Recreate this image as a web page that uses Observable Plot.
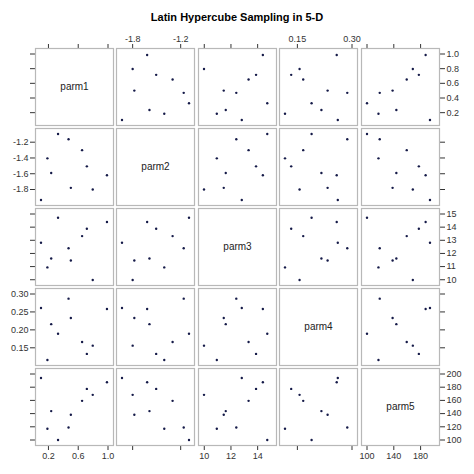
<!DOCTYPE html>
<html>
<head>
<meta charset="utf-8">
<script src="https://cdn.jsdelivr.net/npm/d3@7"></script>
<script src="https://cdn.jsdelivr.net/npm/@observablehq/plot@0.6"></script>
<style>
  html, body { margin: 0; padding: 0; background: #fff; }
  #wrap { position: relative; width: 474px; height: 474px; overflow: hidden; font-family: "Liberation Sans", Arial, sans-serif; }
  #title { position: absolute; left: 0; width: 474px; top: 11px; text-align: center; font-weight: bold; font-size: 11px; line-height: 13px; color: #000; }
  .cell { position: absolute; width: 158px; height: 157px; }
  .cell svg { background: transparent !important; max-width: none !important; display: block; }
</style>
</head>
<body>
<div id="wrap"><div id="title">Latin Hypercube Sampling in 5-D</div></div>
<script>
// Variable names
const names = ["parm1", "parm2", "parm3", "parm4", "parm5"];

// Sample values (10 samples)
const parm1 = [0.986, 0.795, 0.716, 0.652, 0.501, 0.470, 0.329, 0.237, 0.186, 0.100];
const parm2 = [-1.619, -1.800, -1.506, -1.301, -1.779, -1.162, -1.096, -1.590, -1.405, -1.933];
const parm3 = [14.39, 9.98, 13.88, 13.32, 11.46, 12.40, 14.72, 11.61, 10.94, 12.81];
const parm4 = [0.258, 0.156, 0.133, 0.166, 0.233, 0.287, 0.189, 0.216, 0.116, 0.261];
const parm5 = [187.5, 168.4, 177.4, 159.3, 138.2, 119.0, 100.0, 143.8, 117.1, 194.0];

// Tick values used on horizontal axes
const xTicks1 = [0.2, 0.6, 1.0];
const xTicks2 = [-1.8, -1.2];
const xTicks3 = [10, 12, 14];
const xTicks4 = [0.15, 0.30];
const xTicks5 = [100, 140, 180];

// Tick values used on vertical axes
const yTicks1 = [0.2, 0.4, 0.6, 0.8, 1.0];
const yTicks2 = [-1.8, -1.6, -1.4, -1.2];
const yTicks3 = [10, 11, 12, 13, 14, 15];
const yTicks4 = [0.15, 0.20, 0.25, 0.30];
const yTicks5 = [100, 120, 140, 160, 180, 200];

// Decimal places of tick labels
const decimals = [1, 1, 0, 2, 0];

const values = [parm1, parm2, parm3, parm4, parm5];
const xTicks = [xTicks1, xTicks2, xTicks3, xTicks4, xTicks5];
const yTicks = [yTicks1, yTicks2, yTicks3, yTicks4, yTicks5];

const rows = parm1.map((_, k) => Object.fromEntries(names.map((n, v) => [n, values[v][k]])));
const domains = values.map((vals, v) => {
  const all = vals.concat(yTicks[v]);
  return [d3.min(all), d3.max(all)];
});

const N = 5;
const W = 78, H = 77, M = 40;
const left0 = 34.5, pitchX = 81.5;
const top0 = 48.3, pitchY = 80;
const wrap = document.getElementById("wrap");
const fmt = v => d => d.toFixed(decimals[v]);
const blank = () => "";

for (let i = 0; i < N; i++) {
  for (let j = 0; j < N; j++) {
    const xAxis = i === 0 ? "top" : i === N - 1 ? "bottom" : null;
    const xLabeled = (i === 0 && j % 2 === 1) || (i === N - 1 && j % 2 === 0);
    const yAxis = j === 0 ? "left" : j === N - 1 ? "right" : null;
    const yLabeled = (j === 0 && i % 2 === 1) || (j === N - 1 && i % 2 === 0);
    const marks = [Plot.frame({stroke: "#b8b8b8", strokeWidth: 1.2})];
    if (i === j) {
      marks.push(Plot.text([names[i]], {text: d => d, frameAnchor: "middle", fontSize: 10, fill: "#222"}));
      marks.push(Plot.dot(rows, {x: names[j], y: names[i], r: 0, fill: "none"}));
    } else {
      marks.push(Plot.dot(rows, {x: names[j], y: names[i], r: 1.2, fill: "#151a48"}));
    }
    const chart = Plot.plot({
      width: W + 2 * M,
      height: H + 2 * M,
      marginTop: M, marginBottom: M, marginLeft: M, marginRight: M,
      style: {background: "transparent", fontSize: "9px", fontFamily: "'Liberation Sans', Arial, sans-serif", color: "#333", overflow: "visible", maxWidth: "none"},
      x: {domain: domains[j], inset: 5.5, ticks: xTicks[j], axis: xAxis, tickSize: 5, tickPadding: 2,
          tickFormat: xLabeled ? fmt(j) : blank, label: null, line: false},
      y: {domain: domains[i], inset: 5.5, ticks: yTicks[i], axis: yAxis, tickSize: 5, tickPadding: 2,
          tickFormat: yLabeled ? fmt(i) : blank, label: null, line: false},
      marks
    });
    const div = document.createElement("div");
    div.className = "cell";
    div.style.left = (left0 + j * pitchX - M) + "px";
    div.style.top = (top0 + i * pitchY - M) + "px";
    div.appendChild(chart);
    wrap.appendChild(div);
  }
}
</script>
</body>
</html>
